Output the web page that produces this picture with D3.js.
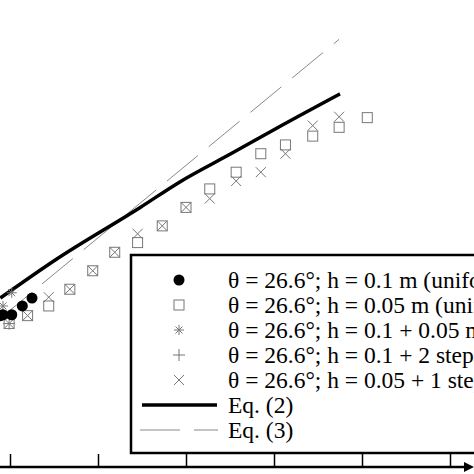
<!DOCTYPE html>
<html>
<head>
<meta charset="utf-8">
<script src="https://cdn.jsdelivr.net/npm/d3@7"></script>
<style>
  body { margin: 0; background: #fff; }
  svg { display: block; }
</style>
</head>
<body>
<div id="chart"></div>
<script>
// values (x, y in axis units)
const uniform01 = [[-0.11, 1.72], [-0.08, 1.73], [0.02, 1.73], [0.14, 1.83], [0.25, 1.92]]
const uniform005 = [[-0.01, 1.63], [0.20, 1.72], [0.44, 1.83], [0.68, 2.02], [0.94, 2.23], [1.19, 2.44],
    [1.45, 2.55], [1.73, 2.74], [2.00, 2.95], [2.27, 3.16], [2.57, 3.35], [2.85, 3.56], [3.13, 3.66],
    [3.44, 3.76], [3.74, 3.86], [4.06, 3.97]]
const step01005 = [[-0.08, 1.83], [0.02, 1.98]]
const step01two = [[-0.01, 1.63]]
const step005one = [[-0.01, 1.63], [0.20, 1.72], [0.44, 1.93], [0.68, 2.02], [0.94, 2.23], [1.19, 2.44],
    [1.45, 2.65], [1.73, 2.74], [2.00, 2.95], [2.27, 3.05], [2.57, 3.25], [2.85, 3.35], [3.13, 3.56],
    [3.44, 3.88], [3.74, 3.98]]
const eq2 = [[-0.11, 1.92], [0.51, 2.35], [1.48, 2.95], [1.93, 3.24], [2.53, 3.57], [3.03, 3.85], [3.75, 4.24]]
const eq3 = [[-0.11, 1.69], [3.74, 4.86]]
const xTicks = [0, 1, 2, 3, 4, 5]
const legendLabels = [
    "θ = 26.6°; h = 0.1 m (uniform)",
    "θ = 26.6°; h = 0.05 m (uniform)",
    "θ = 26.6°; h = 0.1 + 0.05 m (step)",
    "θ = 26.6°; h = 0.1 + 2 steps 0.05 m",
    "θ = 26.6°; h = 0.05 + 1 step 0.05 m",
    "Eq. (2)",
    "Eq. (3)"
]

const width = 474, height = 474
const grey = "#777"

let svg = d3.select("#chart").append("svg")
    .attr("width", width).attr("height", height)

let x = d3.scaleLinear().domain([0, 5]).range([10, 450])
let y = d3.scaleLinear().domain([0, 5]).range([467, 27])

let line = d3.line().x(d => x(d[0])).y(d => y(d[1]))
let smooth = d3.line().x(d => x(d[0])).y(d => y(d[1])).curve(d3.curveMonotoneX)

svg.append("path").datum(eq3).attr("d", line)
    .attr("fill", "none").attr("stroke", "#888").attr("stroke-width", 1)
    .attr("stroke-dasharray", "40 14")
svg.append("path").datum(eq2).attr("d", smooth)
    .attr("fill", "none").attr("stroke", "#000").attr("stroke-width", 3.5)

// marker drawers
function square(g) {
    g.append("rect").attr("x", -5).attr("y", -5).attr("width", 10).attr("height", 10)
        .attr("fill", "none").attr("stroke", grey).attr("stroke-width", 1)
}
function cross(g) {
    g.append("path").attr("d", "M-5,-5L5,5M5,-5L-5,5").attr("stroke", grey).attr("stroke-width", 1)
}
function plus(g) {
    g.append("path").attr("d", "M-6,0L6,0M0,-6L0,6").attr("stroke", grey).attr("stroke-width", 1)
}
function star(g) {
    g.append("path").attr("d", "M-5,0L5,0M0,-5L0,5M-3.5,-3.5L3.5,3.5M3.5,-3.5L-3.5,3.5")
        .attr("stroke", grey).attr("stroke-width", 1)
}
function dot(g) {
    g.append("circle").attr("r", 5.5).attr("fill", "#000")
}

function drawPoints(data, drawer) {
    svg.append("g").selectAll("g").data(data).enter().append("g")
        .attr("transform", d => `translate(${x(d[0])},${y(d[1])})`)
        .each(function () { drawer(d3.select(this)) })
}
drawPoints(uniform005, square)
drawPoints(step005one, cross)
drawPoints(step01two, plus)
drawPoints(step01005, star)
drawPoints(uniform01, dot)

// x axis
let axis = svg.append("g").attr("transform", `translate(0,${y(0)})`)
    .call(d3.axisBottom(x).tickValues(xTicks).tickSize(-13).tickFormat(""))
axis.select(".domain").remove()
axis.selectAll(".tick line").attr("stroke-width", 1.5)
svg.append("line").attr("x1", 0).attr("x2", 466).attr("y1", y(0)).attr("y2", y(0))
    .attr("stroke", "#000").attr("stroke-width", 2.5)
svg.append("path").attr("d", `M464,${y(0) - 5}L474,${y(0)}L464,${y(0) + 5}Z`).attr("fill", "#000")

// legend (runs past the right edge, as in the cropped original)
let lg = svg.append("g").attr("transform", "translate(131,255)")
lg.append("rect").attr("width", 360).attr("height", 198)
    .attr("fill", "#fff").attr("stroke", "#000").attr("stroke-width", 2.5)
let drawers = [dot, square, star, plus, cross]
legendLabels.forEach((label, i) => {
    let ry = 25 + i * 25
    let item = lg.append("g").attr("transform", `translate(48,${ry})`)
    if (i < 5) drawers[i](item)
    else if (i === 5) item.append("line").attr("x1", -37).attr("x2", 38)
        .attr("stroke", "#000").attr("stroke-width", 3.5)
    else item.append("line").attr("x1", -39).attr("x2", 39)
        .attr("stroke", "#888").attr("stroke-width", 1).attr("stroke-dasharray", "40 14")
    lg.append("text").attr("x", 97).attr("y", ry + 8)
        .attr("font-family", "Liberation Serif, serif").attr("font-size", 23.5)
        .text(label)
})
</script>
</body>
</html>
